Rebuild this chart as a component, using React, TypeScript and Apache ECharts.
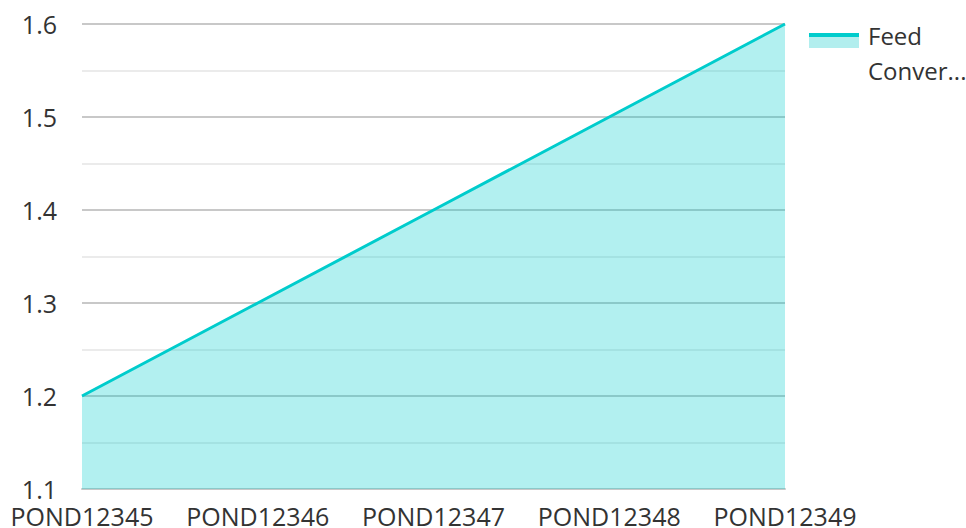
import React, { useEffect, useRef } from "react";
import * as echarts from "echarts";

const categories = ["POND12345", "POND12346", "POND12347", "POND12348", "POND12349"];
const seriesName = "Feed Conversion Ratio";
const values = [1.2, 1.3, 1.4, 1.5, 1.6];
const yTicks = { min: 1.1, max: 1.6, interval: 0.1 };

const iconSvg =
  '<svg xmlns="http://www.w3.org/2000/svg" width="50" height="70" viewBox="0 0 50 70" preserveAspectRatio="none">' +
  '<rect x="0" y="18" width="50" height="12" fill="#b2eeee"/>' +
  '<rect x="0" y="15" width="50" height="4" fill="#00cccc"/>' +
  "</svg>";
const iconUri = "image://data:image/svg+xml;charset=utf-8," + encodeURIComponent(iconSvg);

export default function App() {
  const ref = useRef<HTMLDivElement>(null);
  useEffect(() => {
    const chart = echarts.init(ref.current!, null, { renderer: "svg" });
    const font = "'Open Sans', sans-serif";
    chart.setOption({
      animation: false,
      textStyle: { fontFamily: font },
      grid: { left: 82, right: 181, top: 24, bottom: 38, containLabel: false },
      legend: {
        show: true,
        orient: "vertical",
        left: 809,
        top: 18,
        padding: 0,
        itemWidth: 50,
        itemHeight: 70,
        itemGap: 10,
        icon: iconUri,
        formatter: () => "Feed\nConver...",
        textStyle: { fontFamily: font, fontSize: 24, color: "#333333", lineHeight: 35, padding: [0, 0, 0, 4] },
      },
      xAxis: {
        type: "category",
        data: categories,
        boundaryGap: false,
        axisLine: { show: true, lineStyle: { color: "#c8c8c8", width: 2 } },
        axisTick: { show: false },
        axisLabel: { fontFamily: font, fontSize: 25, color: "#333333", margin: 14, interval: 0, hideOverlap: false },
      },
      yAxis: {
        type: "value",
        min: yTicks.min,
        max: yTicks.max,
        interval: yTicks.interval,
        axisLine: { show: false },
        axisTick: { show: false },
        axisLabel: { fontFamily: font, fontSize: 25, color: "#333333", margin: 25, formatter: (v: number) => v.toFixed(1) },
        splitLine: { show: true, lineStyle: { color: "#c8c8c8", width: 2 } },
        minorTick: { show: false, splitNumber: 2 },
        minorSplitLine: { show: true, lineStyle: { color: "#ebebeb", width: 2 } },
      },
      series: [
        {
          name: seriesName,
          type: "line",
          data: values,
          showSymbol: false,
          symbol: "none",
          lineStyle: { color: "#00cccc", width: 3 },
          itemStyle: { color: "#00cccc" },
          areaStyle: { color: "#00cccc", opacity: 0.3 },
        },
      ],
    });
    return () => chart.dispose();
  }, []);
  return <div ref={ref} style={{ width: 966, height: 528, position: "absolute", left: 0, top: 0 }} />;
}
